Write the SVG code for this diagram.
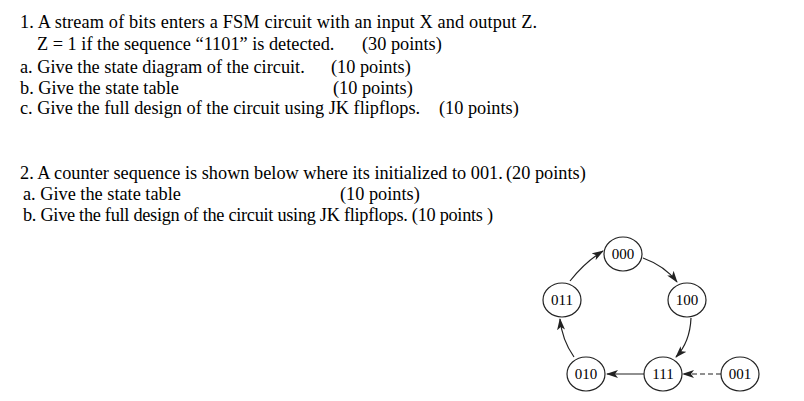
<svg xmlns="http://www.w3.org/2000/svg" width="804" height="401" viewBox="0 0 804 401">
<style>
text{font-family:"Liberation Serif",serif;fill:#000}
.t{font-size:18.3px}
.n ellipse{fill:#fff;stroke:#222;stroke-width:1.2}
.n text{font-size:15px;text-anchor:middle}
.c{fill:none;stroke:#222;stroke-width:1.2}
</style>
<defs><marker id="a" markerWidth="12" markerHeight="8" refX="11" refY="4" orient="auto" markerUnits="userSpaceOnUse"><path d="M0,0L12,4L0,8L3,4Z" fill="#222"/></marker></defs>
<rect width="804" height="401" fill="#fff"/>
<g class="t">
<text x="20" y="28" textLength="517">1. A stream of bits enters a FSM circuit with an input X and output Z.</text>
<text x="37" y="50">Z = 1 if the sequence “1101” is detected.</text><text x="362" y="50">(30 points)</text>
<text x="20" y="73">a. Give the state diagram of the circuit.</text><text x="331" y="73">(10 points)</text>
<text x="20" y="94">b. Give the state table</text><text x="333" y="94">(10 points)</text>
<text x="20" y="114">c. Give the full design of the circuit using JK flipflops.</text><text x="439" y="114">(10 points)</text>
<text x="20" y="179">2. A counter sequence is shown below where its initialized to 001.</text><text x="506" y="179">(20 points)</text>
<text x="23" y="200">a. Give the state table</text><text x="340" y="200">(10 points)</text>
<text x="23" y="221" textLength="470">b. Give the full design of the circuit using JK flipflops. (10 points )</text>
</g>
<g id="connectors">
<path class="c" d="M570,281 Q585,262 603,251" marker-end="url(#a)"/>
<path class="c" d="M643,258 Q665,266 677,282" marker-end="url(#a)"/>
<path class="c" d="M691,318 Q690,342 676,357" marker-end="url(#a)"/>
<path class="c" d="M644,374 L607,374" marker-end="url(#a)"/>
<path class="c" d="M574,357 Q562,340 560,319" marker-end="url(#a)"/>
<path class="c" d="M721,374 L683,374" stroke-dasharray="5,3" marker-end="url(#a)"/>
</g>
<g id="n000" class="n"><ellipse cx="623" cy="254" rx="19" ry="17"/><text x="623" y="259">000</text></g>
<g id="n011" class="n"><ellipse cx="562" cy="300" rx="19" ry="17"/><text x="562" y="305">011</text></g>
<g id="n100" class="n"><ellipse cx="687" cy="300" rx="19" ry="17"/><text x="687" y="305">100</text></g>
<g id="n010" class="n"><ellipse cx="586" cy="374" rx="19" ry="17"/><text x="586" y="379">010</text></g>
<g id="n111" class="n"><ellipse cx="663" cy="374" rx="19" ry="17"/><text x="663" y="379">111</text></g>
<g id="n001" class="n"><ellipse cx="740" cy="374" rx="19" ry="17"/><text x="740" y="379">001</text></g>
</svg>
